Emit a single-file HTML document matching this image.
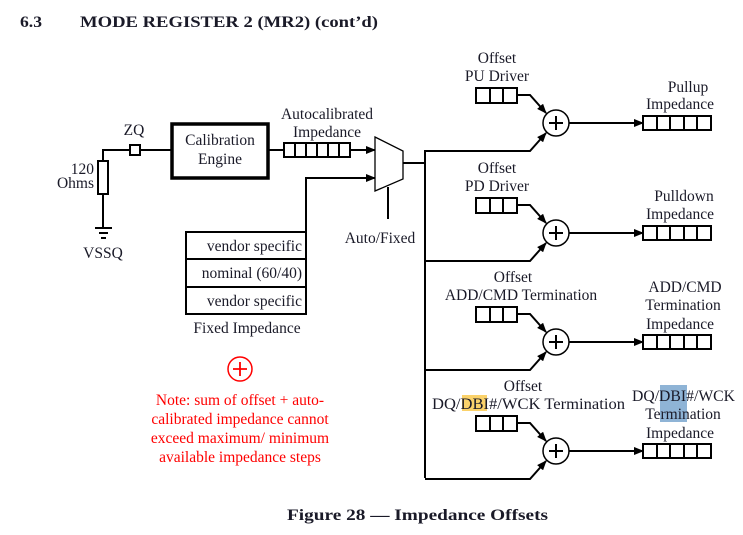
<!DOCTYPE html>
<html><head><meta charset="utf-8"><style>
html,body{margin:0;padding:0;background:#fff;}
svg{display:block;}
text{font-family:"Liberation Serif",serif;font-size:15.5px;fill:#1a1a28;}
</style></head><body>
<svg width="743" height="535" viewBox="0 0 743 535" xmlns="http://www.w3.org/2000/svg">
<defs>
<marker id="a" markerWidth="10" markerHeight="8" refX="9" refY="4" orient="auto" markerUnits="userSpaceOnUse">
<path d="M0,0 L10,4 L0,8 z" fill="#000"/></marker>
</defs>
<text x="20" y="27" style="font-weight:bold;font-size:16px" textLength="22" lengthAdjust="spacingAndGlyphs">6.3</text>
<text x="80" y="27" style="font-weight:bold;font-size:16px" textLength="298" lengthAdjust="spacingAndGlyphs">MODE REGISTER 2 (MR2) (cont’d)</text>

<g stroke="#000" stroke-width="2" fill="none">
<polyline points="103,161 103,150 130,150"/>
<rect x="130" y="145" width="10" height="10" fill="#fff"/>
<line x1="140" y1="150" x2="171" y2="150"/>
<rect x="98" y="161" width="10" height="33" fill="#fff"/>
<line x1="103" y1="194" x2="103" y2="228"/>
<line x1="95" y1="228" x2="112" y2="228"/>
<line x1="99" y1="233" x2="108" y2="233"/>
<line x1="101" y1="238" x2="106" y2="238"/>
<rect x="172" y="124" width="96" height="54" stroke-width="3.5"/>
<line x1="268" y1="150" x2="284" y2="150"/>
<line x1="350" y1="150" x2="375" y2="150" marker-end="url(#a)"/>
<polyline points="306,232 306,178 375,178" marker-end="url(#a)"/>
<polygon points="375,137 403,151 403,179 375,191" stroke-width="1.3" fill="#fff"/>
<line x1="388" y1="187" x2="388" y2="219"/>
<polyline points="403,163 425,163"/>
<line x1="425" y1="150" x2="425" y2="478"/>
<rect x="186" y="232" width="120" height="82"/>
<line x1="186" y1="259" x2="306" y2="259"/>
<line x1="186" y1="287" x2="306" y2="287"/>
</g>
<g stroke="#000" stroke-width="2" fill="#fff">
<rect x="284" y="143" width="66" height="14"/>
<path d="M295,143v14M306,143v14M317,143v14M328,143v14M339,143v14" fill="none"/>
</g>

<g id="blk">
<g stroke="#000" stroke-width="2" fill="none">
<rect x="476" y="88" width="41" height="15" fill="#fff"/>
<path d="M490,88v15M503,88v15"/>
<polyline points="517,95 530,95 546,113" marker-end="url(#a)"/>
<polyline points="425,151 530,151 546,133" marker-end="url(#a)"/>
<circle cx="556" cy="123" r="13" fill="#fff" stroke-width="1.5"/>
<path d="M549,123h14M556,116v14"/>
<line x1="569" y1="123" x2="643" y2="123" marker-end="url(#a)"/>
<rect x="643" y="116" width="68" height="14" fill="#fff"/>
<path d="M657,116v14M670,116v14M684,116v14M697,116v14"/>
</g>
</g>
<use href="#blk" transform="translate(0,110)"/>
<use href="#blk" transform="translate(0,219)"/>
<use href="#blk" transform="translate(0,328)"/>

<rect x="462" y="395" width="25" height="16" fill="#fbd26a"/>
<rect x="660" y="385" width="27" height="37" fill="#8fb4d6"/>

<text x="134" y="135" text-anchor="middle">ZQ</text>
<text x="94" y="174" text-anchor="end">120</text>
<text x="94" y="188" text-anchor="end">Ohms</text>
<text x="103" y="258" text-anchor="middle">VSSQ</text>
<text x="220" y="145" text-anchor="middle">Calibration</text>
<text x="220" y="164" text-anchor="middle">Engine</text>
<text x="327" y="119" text-anchor="middle">Autocalibrated</text>
<text x="327" y="137" text-anchor="middle">Impedance</text>
<text x="380" y="243" text-anchor="middle">Auto/Fixed</text>
<text x="302" y="251" text-anchor="end">vendor specific</text>
<text x="302" y="278" text-anchor="end">nominal (60/40)</text>
<text x="302" y="306" text-anchor="end">vendor specific</text>
<text x="247" y="333" text-anchor="middle">Fixed Impedance</text>

<circle cx="240" cy="369" r="12" fill="none" stroke="#f00" stroke-width="1.5"/>
<path d="M233,369h14M240,362v14" stroke="#f00" stroke-width="1.8"/>
<text x="240" y="405" text-anchor="middle" style="fill:#f00">Note: sum of offset + auto-</text>
<text x="240" y="424" text-anchor="middle" style="fill:#f00">calibrated impedance cannot</text>
<text x="240" y="443" text-anchor="middle" style="fill:#f00">exceed maximum/ minimum</text>
<text x="240" y="462" text-anchor="middle" style="fill:#f00">available impedance steps</text>

<text x="497" y="63" text-anchor="middle">Offset</text>
<text x="497" y="81" text-anchor="middle">PU Driver</text>
<text x="688" y="92" text-anchor="middle">Pullup</text>
<text x="680" y="109" text-anchor="middle">Impedance</text>

<text x="497" y="173" text-anchor="middle">Offset</text>
<text x="497" y="191" text-anchor="middle">PD Driver</text>
<text x="684" y="201" text-anchor="middle">Pulldown</text>
<text x="680" y="219" text-anchor="middle">Impedance</text>

<text x="513" y="282" text-anchor="middle">Offset</text>
<text x="521" y="300" text-anchor="middle">ADD/CMD Termination</text>
<text x="685" y="292" text-anchor="middle">ADD/CMD</text>
<text x="683" y="310" text-anchor="middle">Termination</text>
<text x="680" y="329" text-anchor="middle">Impedance</text>

<text x="523" y="391" text-anchor="middle">Offset</text>
<text x="432" y="409" textLength="193" lengthAdjust="spacingAndGlyphs">DQ/DBI#/WCK Termination</text>
<text x="632" y="401" textLength="103" lengthAdjust="spacingAndGlyphs">DQ/DBI#/WCK</text>
<text x="683" y="419" text-anchor="middle">Termination</text>
<text x="680" y="438" text-anchor="middle">Impedance</text>

<text x="287" y="520" style="font-weight:bold;font-size:16px" textLength="261" lengthAdjust="spacingAndGlyphs">Figure 28 — Impedance Offsets</text>
</svg>
</body></html>
